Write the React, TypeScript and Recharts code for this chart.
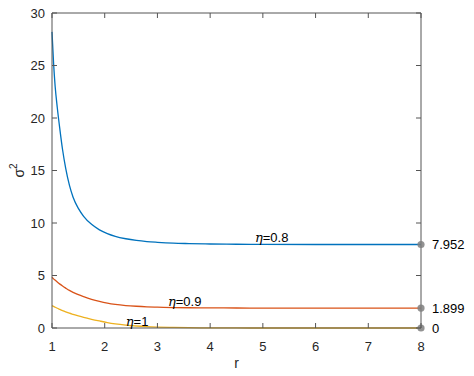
import React from 'react';
import { ComposedChart, Line, Scatter, XAxis, YAxis } from 'recharts';

// sample points along r
const rValues = [1, 1.03, 1.06, 1.1, 1.15, 1.2, 1.26, 1.33, 1.4, 1.5, 1.6, 1.75, 1.9, 2.05, 2.2, 2.4, 2.6, 2.8, 3, 3.3, 3.6, 4, 4.5, 5, 6, 7, 8];
const eta08 = [28.2, 25.2, 23.0, 21.0, 18.9, 17.0, 15.2, 13.6, 12.45, 11.39, 10.64, 9.87, 9.35, 8.99, 8.73, 8.5, 8.34, 8.23, 8.16, 8.08, 8.04, 8.0, 7.974, 7.962, 7.954, 7.952, 7.952];
const eta09 = [4.83, 4.68, 4.55, 4.38, 4.18, 4.0, 3.8, 3.58, 3.4, 3.17, 2.98, 2.73, 2.53, 2.37, 2.25, 2.14, 2.07, 2.02, 1.99, 1.95, 1.93, 1.915, 1.905, 1.9, 1.899, 1.899, 1.899];
const eta10 = [2.13, 2.06, 1.98, 1.88, 1.77, 1.66, 1.54, 1.41, 1.3, 1.15, 1.01, 0.83, 0.67, 0.52, 0.4, 0.28, 0.19, 0.13, 0.09, 0.05, 0.03, 0.015, 0.005, 0, 0, 0, 0];

const xTicks = [1, 2, 3, 4, 5, 6, 7, 8];
const yTicks = [0, 5, 10, 15, 20, 25, 30];

// end markers at r = 8
const endValues = [7.952, 1.899, 0];
const endLabels = ['7.952', '1.899', '0'];

// curve annotations
const noteR = [4.85, 3.2, 2.4];
const noteV = [8.67, 2.5, 0.67];
const noteText = ['=0.8', '=0.9', '=1'];

const data = rValues.map((r, i) => ({ r, a: eta08[i], b: eta09[i], c: eta10[i] }));
const ends = endValues.map((v, i) => ({ r: 8, v, label: endLabels[i] }));
const notes = noteR.map((r, i) => ({ r, v: noteV[i], text: noteText[i] }));

const FONT = '"Liberation Sans", Arial, Helvetica, sans-serif';
const AXIS = '#555555';
const TEXT = '#262626';
const TICK = 5;

// inward tick marks, MATLAB style
const BottomTick = (p: any) => (
  <g>
    <line x1={p.x} x2={p.x} y1={p.y - 14} y2={p.y - 14 - TICK} stroke={AXIS} />
    <text x={p.x} y={p.y} dy="0.71em" textAnchor="middle" fontSize={13} fontFamily={FONT} fill={TEXT}>
      {p.payload.value}
    </text>
  </g>
);
const LeftTick = (p: any) => (
  <g>
    <line x1={p.x + 7} x2={p.x + 7 + TICK} y1={p.y} y2={p.y} stroke={AXIS} />
    <text x={p.x} y={p.y} dy="0.35em" textAnchor="end" fontSize={13} fontFamily={FONT} fill={TEXT}>
      {p.payload.value}
    </text>
  </g>
);
const TopTick = (p: any) => <line x1={p.x} x2={p.x} y1={p.y} y2={p.y + TICK} stroke={AXIS} />;
const RightTick = (p: any) => <line x1={p.x} x2={p.x - TICK} y1={p.y} y2={p.y} stroke={AXIS} />;

const EndDot = (p: any) => (
  <g>
    <circle cx={p.cx} cy={p.cy} r={3.6} fill="#7f7f7f" fillOpacity={0.85} />
    <text x={p.cx + 11} y={p.cy} dy="0.35em" fontSize={13} fontFamily={FONT} fill="#000">
      {p.payload.label}
    </text>
  </g>
);

const Note = (p: any) => (
  <text x={p.cx} y={p.cy} dy="0.35em" fontSize={13} fontFamily={FONT} fill="#000">
    <tspan fontStyle="italic" fontFamily='"DejaVu Serif", serif'>η</tspan>
    {p.payload.text}
  </text>
);

const SigmaLabel = (props: any) => {
  const vb = props.viewBox || { y: 13, height: 315 };
  const cx = 19;
  const cy = vb.y + vb.height / 2;
  return (
    <text
      x={cx}
      y={cy}
      transform={`rotate(-90 ${cx} ${cy})`}
      textAnchor="middle"
      dominantBaseline="central"
      fontSize={14}
      fontFamily={FONT}
      fill={TEXT}
    >
      σ<tspan dy={-6} fontSize={10}>2</tspan>
    </text>
  );
};

export default function App() {
  return (
    <div style={{ position: 'absolute', left: 0, top: 0, width: 474, height: 376, background: '#fff' }}>
      <ComposedChart width={474} height={376} data={data} margin={{ top: 12, right: 52, bottom: 0, left: 0 }}>
        <XAxis
          dataKey="r"
          type="number"
          domain={[1, 8]}
          ticks={xTicks}
          height={48}
          tickSize={0}
          tickMargin={14}
          tickLine={false}
          stroke={AXIS}
          tick={<BottomTick />}
          label={{ value: 'r', position: 'insideBottom', offset: 8, fontSize: 14, fontFamily: FONT, fill: TEXT }}
        />
        <XAxis
          xAxisId="top"
          dataKey="r"
          orientation="top"
          type="number"
          domain={[1, 8]}
          ticks={xTicks}
          height={1}
          tickSize={0}
          tickMargin={0}
          tickLine={false}
          tick={<TopTick />}
          stroke={AXIS}
        />
        <YAxis
          type="number"
          domain={[0, 30]}
          ticks={yTicks}
          width={52}
          tickSize={0}
          tickMargin={7}
          tickLine={false}
          stroke={AXIS}
          tick={<LeftTick />}
          label={{ content: SigmaLabel }}
        />
        <YAxis
          yAxisId="right"
          orientation="right"
          type="number"
          domain={[0, 30]}
          ticks={yTicks}
          width={1}
          tickSize={0}
          tickMargin={0}
          tickLine={false}
          tick={<RightTick />}
          stroke={AXIS}
        />
        <Line dataKey="a" type="monotone" stroke="#0072BD" strokeWidth={1.3} dot={false} isAnimationActive={false} />
        <Line dataKey="b" type="monotone" stroke="#D95319" strokeWidth={1.3} dot={false} isAnimationActive={false} />
        <Line dataKey="c" type="monotone" stroke="#EDB120" strokeWidth={1.3} dot={false} isAnimationActive={false} />
        {/* invisible series so the box axes get drawn */}
        <Line xAxisId="top" yAxisId="right" dataKey="c" stroke="none" dot={false} activeDot={false} isAnimationActive={false} />
        <Scatter data={notes} dataKey="v" shape={Note} isAnimationActive={false} />
        <Scatter data={ends} dataKey="v" shape={EndDot} isAnimationActive={false} />
      </ComposedChart>
    </div>
  );
}
